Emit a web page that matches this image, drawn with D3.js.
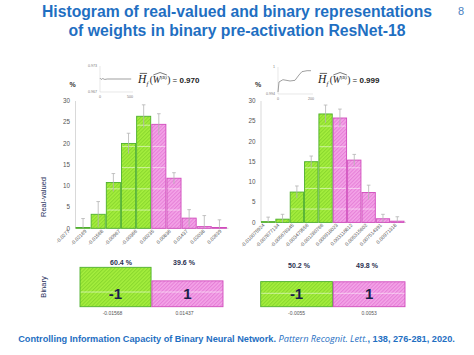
<!DOCTYPE html>
<html><head><meta charset="utf-8">
<script src="https://cdn.jsdelivr.net/npm/d3@7"></script>
<style>
html,body{margin:0;padding:0;background:#fff;}
svg{display:block;}
</style></head>
<body>
<svg id="c" width="474" height="355"></svg>
<script>
// ---------------- data ----------------
const titleLines = ["Histogram of real-valued and binary representations", "of weights in binary pre-activation ResNet-18"];
const pageNumber = "8";
const yTicks = [0, 5, 10, 15, 20, 25, 30];

const leftLabels = ["-0.0277", "-0.02169", "-0.01568", "-0.00967", "-0.00366", "0.00235", "0.00836", "0.01437", "0.02038", "0.02639"];
const leftValues = [0.2, 3.3, 10.8, 20.0, 26.4, 24.5, 11.8, 2.4, 0.4, 0.2];
const leftErrors = [2.1, 3.0, 2.1, 2.4, 2.7, 2.5, 1.3, 2.0, 2.6, 1.8];

const rightLabels = ["-0.010075924", "-0.007877134", "-0.005678345", "-0.003479556", "-0.001280766", "0.000918023", "0.003116812", "0.005315602", "0.007514391", "0.00971318"];
const rightValues = [0.2, 0.8, 7.5, 15.0, 26.8, 25.8, 15.4, 7.4, 0.9, 0.3];
const rightErrors = [1.1, 1.2, 1.5, 1.4, 2.2, 2.2, 1.4, 1.8, 1.1, 1.1];

const binarySymbols = ["-1", "1"];
const leftBinaryPct = [60.4, 39.6];
const leftBinaryValues = ["-0.01568", "0.01437"];
const rightBinaryPct = [50.2, 49.8];
const rightBinaryValues = ["-0.0055", "0.0053"];

const leftInsetX = [0, 20, 45, 80, 120, 200, 300, 400, 520];
const leftInsetY = [0.9702, 0.9699, 0.9701, 0.9699, 0.9700, 0.9700, 0.9700, 0.9700, 0.9700];
const leftInsetYTicks = ["0.967", "0.973"];
const leftInsetXTicks = [0, 500];
const rightInsetX = [0, 6, 30, 73, 103, 127, 145, 176, 200];
const rightInsetY = [0.99444, 0.99667, 0.99718, 0.99689, 0.99704, 0.99822, 0.99896, 0.99918, 0.99918];
const rightInsetYTicks = ["0.994", "1"];
const rightInsetXTicks = [0, 200];
const entropyValues = ["0.970", "0.999"];

const footerParts = [
  {t: "Controlling Information Capacity of Binary Neural Network. ", italic: false},
  {t: "Pattern Recognit. Lett.", italic: true},
  {t: ", 138, 276-281, 2020.", italic: false}
];

// ---------------- drawing ----------------
const svg = d3.select("#c");
const SANS = "'Liberation Sans', Arial, sans-serif";
const SERIF = "'Liberation Serif', 'Times New Roman', serif";
const BLUE = "#1f6fc2";
const GREEN = {base: "#a6ef3e", line: "#86d62c", stroke: "#4fb02e"};
const PINK = {base: "#f4a6e8", line: "#e57bd6", stroke: "#d04cbc"};

const defs = svg.append("defs");
function hatch(id, c) {
  const p = defs.append("pattern").attr("id", id).attr("patternUnits", "userSpaceOnUse")
    .attr("width", 2.6).attr("height", 2.6).attr("patternTransform", "rotate(45)");
  p.append("rect").attr("width", 2.6).attr("height", 2.6).attr("fill", c.base);
  p.append("line").attr("x1", 0.6).attr("y1", 0).attr("x2", 0.6).attr("y2", 2.6)
    .attr("stroke", c.line).attr("stroke-width", 1);
}
hatch("hg", GREEN);
hatch("hp", PINK);

// title
const titleWidths = [390, 337];
svg.append("g").selectAll("text").data(titleLines).join("text")
  .attr("x", 237).attr("y", (d, i) => 17 + i * 18.5)
  .attr("text-anchor", "middle").attr("font-family", SANS).attr("font-weight", "bold")
  .attr("font-size", 16).attr("fill", BLUE)
  .attr("textLength", (d, i) => titleWidths[i]).attr("lengthAdjust", "spacingAndGlyphs")
  .text(d => d);
svg.append("text").attr("x", 461).attr("y", 15).attr("text-anchor", "middle")
  .attr("font-family", SANS).attr("font-size", 11).attr("fill", "#4a7fbf").text(pageNumber);

// side labels
svg.append("text").attr("transform", "translate(46,197) rotate(-90)").attr("text-anchor", "middle")
  .attr("font-family", SANS).attr("font-size", 7.5).attr("fill", "#1d2d5a").text("Real-valued");
svg.append("text").attr("transform", "translate(46,287) rotate(-90)").attr("text-anchor", "middle")
  .attr("font-family", SANS).attr("font-size", 7.5).attr("fill", "#1d2d5a").text("Binary");

const panels = [
  {labels: leftLabels, values: leftValues, errors: leftErrors,
   axisX: 75.5, barRange: [76, 226.5], yRange: [228.3, 101], labelRange: [70, 222], labelY: 231.5,
   gridVals: [4.3, 9.3, 14.3, 19.3, 24.3],
   binPct: leftBinaryPct, binVals: leftBinaryValues, binRange: [80, 223], binBase: 306.7, binScale: 65.2,
   pctX: [121, 184], pctY: 264.5, binGrid: 22.5,
   insetX: leftInsetX, insetY: leftInsetY, insetXDom: [0, 500], insetYDom: [0.967, 0.973],
   insetXR: [100, 130], insetYR: [92, 66], insetXEnd: 133, insetYTicks: leftInsetYTicks, insetXTicks: leftInsetXTicks,
   formulaX: 138, entropy: entropyValues[0]},
  {labels: rightLabels, values: rightValues, errors: rightErrors,
   axisX: 261, barRange: [261.5, 404], yRange: [222.4, 101], labelRange: [265, 397], labelY: 225.5,
   gridVals: [3.3, 8.4, 13.5, 18.7, 23.8],
   binPct: rightBinaryPct, binVals: rightBinaryValues, binRange: [260.7, 405], binBase: 306.7, binScale: 50,
   pctX: [299, 367], pctY: 268, binGrid: 26.8,
   insetX: rightInsetX, insetY: rightInsetY, insetXDom: [0, 200], insetYDom: [0.994, 1],
   insetXR: [278, 311], insetYR: [94, 67], insetXEnd: 313, insetYTicks: rightInsetYTicks, insetXTicks: rightInsetXTicks,
   formulaX: 318, entropy: entropyValues[1]}
];

panels.forEach((p, pi) => {
  const g = svg.append("g");
  const idx = d3.range(p.values.length);
  const x = d3.scaleBand().domain(idx).range(p.barRange).paddingInner(0.07).paddingOuter(0);
  const y = d3.scaleLinear().domain([0, 30]).range(p.yRange);
  const xl = d3.scalePoint().domain(idx).range(p.labelRange);
  const isNeg = i => p.labels[i].startsWith("-");

  // axes lines
  g.append("line").attr("x1", p.axisX).attr("x2", p.axisX).attr("y1", y(30)).attr("y2", y(0))
    .attr("stroke", "#cfcfcf").attr("stroke-width", 0.8);
  g.append("line").attr("x1", p.axisX).attr("x2", p.barRange[1] + 2).attr("y1", y(0)).attr("y2", y(0))
    .attr("stroke", "#cfcfcf").attr("stroke-width", 0.8);
  g.selectAll(".yt").data(yTicks).join("text")
    .attr("x", p.axisX - 5.5).attr("y", d => y(d) + 2.2).attr("text-anchor", "end")
    .attr("font-family", SANS).attr("font-size", 6.3).attr("fill", "#555").text(d => d);
  g.append("text").attr("x", p.axisX - 3).attr("y", y(30) - 14).attr("text-anchor", "middle")
    .attr("font-family", SANS).attr("font-weight", "bold").attr("font-size", 7).attr("fill", "#333").text("%");

  // bars
  g.selectAll(".bar").data(idx).join("rect")
    .attr("x", i => x(i)).attr("width", x.bandwidth())
    .attr("y", i => y(p.values[i])).attr("height", i => y(0) - y(p.values[i]))
    .attr("fill", i => isNeg(i) ? "url(#hg)" : "url(#hp)")
    .attr("stroke", i => isNeg(i) ? GREEN.stroke : PINK.stroke).attr("stroke-width", 0.9);
  // white grid overlay inside bars
  idx.forEach(i => {
    p.gridVals.filter(v => v < p.values[i] - 0.4).forEach(v => {
      g.append("line").attr("x1", x(i) + 0.6).attr("x2", x(i) + x.bandwidth() - 0.6)
        .attr("y1", y(v)).attr("y2", y(v)).attr("stroke", "#fff").attr("stroke-opacity", 0.75).attr("stroke-width", 0.7);
    });
  });
  // error bars
  const eb = g.selectAll(".eb").data(idx).join("g").attr("stroke", "#b4b4b4").attr("stroke-width", 0.8);
  eb.append("line").attr("x1", i => x(i) + x.bandwidth() / 2).attr("x2", i => x(i) + x.bandwidth() / 2)
    .attr("y1", i => y(Math.max(0, p.values[i] - p.errors[i]))).attr("y2", i => y(p.values[i] + p.errors[i]));
  eb.append("line").attr("x1", i => x(i) + x.bandwidth() / 2 - 1.8).attr("x2", i => x(i) + x.bandwidth() / 2 + 1.8)
    .attr("y1", i => y(p.values[i] + p.errors[i])).attr("y2", i => y(p.values[i] + p.errors[i]));

  // x labels
  g.selectAll(".xl").data(idx).join("text")
    .attr("transform", i => `translate(${xl(i)},${p.labelY}) rotate(-45)`)
    .attr("text-anchor", "end").attr("font-family", SANS).attr("font-size", 5)
    .attr("fill", "#555").text(i => p.labels[i]);

  // binary boxes
  const bx = d3.scaleBand().domain([0, 1]).range(p.binRange).paddingInner(0.012);
  const bh = d3.scaleLinear().domain([0, 100]).range([0, p.binScale]);
  const bg = g.append("g");
  bg.selectAll("rect").data([0, 1]).join("rect")
    .attr("x", i => bx(i)).attr("width", bx.bandwidth())
    .attr("y", i => p.binBase - bh(p.binPct[i])).attr("height", i => bh(p.binPct[i]))
    .attr("fill", i => i === 0 ? "url(#hg)" : "url(#hp)")
    .attr("stroke", i => i === 0 ? GREEN.stroke : PINK.stroke).attr("stroke-width", 0.9);
  bg.selectAll(".bgl").data([0, 1]).join("line")
    .attr("x1", i => bx(i) + 0.6).attr("x2", i => bx(i) + bx.bandwidth() - 0.6)
    .attr("y1", p.binBase - bh(p.binGrid)).attr("y2", p.binBase - bh(p.binGrid))
    .attr("stroke", "#fff").attr("stroke-opacity", 0.75).attr("stroke-width", 0.7);
  bg.selectAll(".sym").data([0, 1]).join("text")
    .attr("x", i => bx(i) + bx.bandwidth() / 2).attr("y", 298.5).attr("text-anchor", "middle")
    .attr("font-family", SANS).attr("font-weight", "bold").attr("font-size", 15).attr("fill", "#1b1f4a")
    .text(i => binarySymbols[i]);
  bg.selectAll(".pct").data([0, 1]).join("text")
    .attr("x", i => p.pctX[i]).attr("y", p.pctY).attr("text-anchor", "middle")
    .attr("font-family", SANS).attr("font-weight", "bold").attr("font-size", 7).attr("fill", "#2a3050")
    .text(i => p.binPct[i].toFixed(1) + " %");
  bg.selectAll(".bv").data([0, 1]).join("text")
    .attr("x", i => bx(i) + bx.bandwidth() / 2 - (pi === 0 ? 3 : 0)).attr("y", 314.5).attr("text-anchor", "middle")
    .attr("font-family", SANS).attr("font-size", 5).attr("fill", "#555")
    .text(i => p.binVals[i]);

  // inset
  const ix = d3.scaleLinear().domain(p.insetXDom).range(p.insetXR);
  const iy = d3.scaleLinear().domain(p.insetYDom).range(p.insetYR);
  const ig = g.append("g");
  ig.append("line").attr("x1", p.insetXR[0]).attr("x2", p.insetXR[0]).attr("y1", p.insetYR[1]).attr("y2", p.insetYR[0])
    .attr("stroke", "#d8d8d8").attr("stroke-width", 0.6);
  ig.append("line").attr("x1", p.insetXR[0]).attr("x2", p.insetXEnd).attr("y1", p.insetYR[0]).attr("y2", p.insetYR[0])
    .attr("stroke", "#d8d8d8").attr("stroke-width", 0.6);
  ig.append("path").datum(d3.range(p.insetX.length))
    .attr("d", d3.line().x(i => ix(p.insetX[i])).y(i => iy(p.insetY[i])))
    .attr("fill", "none").attr("stroke", "#777").attr("stroke-width", 0.7);
  ig.selectAll(".iyt").data(p.insetYTicks).join("text")
    .attr("x", p.insetXR[0] - 3).attr("y", (d, i) => (i === 0 ? p.insetYR[0] : p.insetYR[1]) + 1.2)
    .attr("text-anchor", "end").attr("font-family", SANS).attr("font-size", 3.6).attr("fill", "#777").text(d => d);
  ig.selectAll(".ixt").data(p.insetXTicks).join("text")
    .attr("x", d => ix(d)).attr("y", p.insetYR[0] + 5.5)
    .attr("text-anchor", "middle").attr("font-family", SANS).attr("font-size", 3.6).attr("fill", "#777").text(d => d);

  // formula
  const fy = 83;
  const ft = g.append("text").attr("x", p.formulaX).attr("y", fy).attr("fill", "#222");
  ft.append("tspan").attr("font-family", SERIF).attr("font-style", "italic").attr("font-size", 11.5).text("H");
  ft.append("tspan").attr("font-family", SERIF).attr("font-style", "italic").attr("font-size", 6.5).attr("dy", 2.5).attr("dx", 0.3).text("f");
  ft.append("tspan").attr("font-family", SERIF).attr("font-size", 9.5).attr("dy", -2.5).attr("dx", 1.2).text("(");
  ft.append("tspan").attr("font-family", SERIF).attr("font-style", "italic").attr("font-size", 9.5).text("W");
  ft.append("tspan").attr("font-family", SERIF).attr("font-style", "italic").attr("font-size", 4.8).attr("dy", -4.5).text("(B)");
  ft.append("tspan").attr("font-family", SERIF).attr("font-size", 9.5).attr("dy", 4.5).attr("dx", 0.3).text(")");
  ft.append("tspan").attr("font-family", SANS).attr("font-size", 8).text(" = ");
  ft.append("tspan").attr("font-family", SANS).attr("font-weight", "bold").attr("font-size", 8).text(p.entropy);
  const node = ft.node();
  const eH = node.getExtentOfChar(0);
  g.append("line").attr("x1", eH.x + 1.8).attr("x2", eH.x + eH.width + 0.8).attr("y1", fy - 9.6).attr("y2", fy - 9.6)
    .attr("stroke", "#222").attr("stroke-width", 0.7);
  const eW = node.getExtentOfChar(3), eB = node.getExtentOfChar(6);
  const hx1 = eW.x + 0.5, hx2 = eB.x + eB.width;
  g.append("path").attr("d", `M${hx1},${fy - 8} L${(hx1 + hx2) / 2},${fy - 10.5} L${hx2},${fy - 8}`)
    .attr("fill", "none").attr("stroke", "#222").attr("stroke-width", 0.6);
});

// footer
const foot = svg.append("text").attr("x", 236.5).attr("y", 342).attr("text-anchor", "middle")
  .attr("font-family", SANS).attr("font-size", 9.2).attr("fill", BLUE);
footerParts.forEach(f => {
  foot.append("tspan").attr("font-weight", f.italic ? "normal" : "bold")
    .attr("font-style", f.italic ? "italic" : "normal")
    .attr("font-family", f.italic ? "'Open Sans', sans-serif" : SANS).text(f.t);
});
</script>
</body></html>
